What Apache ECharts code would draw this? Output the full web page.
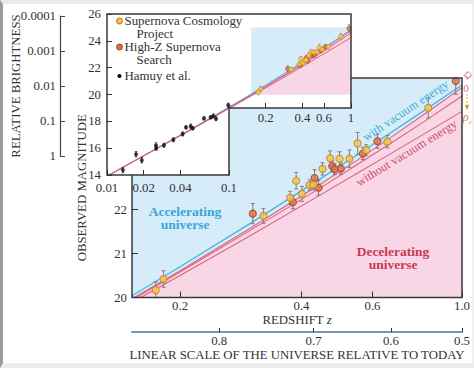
<!DOCTYPE html>
<html><head><meta charset="utf-8">
<script src="https://cdn.jsdelivr.net/npm/echarts@6.0.0/dist/echarts.min.js"></script>
<style>
html,body{margin:0;padding:0;background:#fff;}
#c{width:474px;height:368px;position:absolute;left:0;top:0;}
#fr{position:absolute;left:0;top:0;width:474px;height:368px;box-sizing:border-box;border-top:4px solid #ebebeb;border-left:3px solid #9c9c9c;border-bottom:5px solid #ebebeb;border-right:2px solid #f0f0f0;pointer-events:none;}
</style></head>
<body><div id="c"></div><div id="fr"></div>
<script>
// ---------------- data ----------------
const scpZ   = [0.174, 0.182, 0.322, 0.375, 0.388, 0.401, 0.419, 0.428, 0.451, 0.471, 0.497, 0.526, 0.551, 0.579, 0.653, 0.825];
const scpMag = [20.17, 20.42, 21.86, 22.27, 22.66, 22.36, 22.56, 22.57, 22.93, 23.17, 23.16, 23.16, 23.51, 23.36, 23.55, 24.32];
const scpErr = [0.19, 0.19, 0.17, 0.15, 0.19, 0.17, 0.12, 0.12, 0.14, 0.17, 0.16, 0.20, 0.25, 0.12, 0.14, 0.23];

const hzZ   = [0.303, 0.381, 0.431, 0.441, 0.477, 0.483, 0.501, 0.568, 0.617, 0.965];
const hzMag = [21.91, 22.17, 22.72, 22.50, 22.99, 22.92, 22.94, 23.28, 23.56, 24.93];
const hzErr = [0.23, 0.15, 0.19, 0.17, 0.12, 0.12, 0.13, 0.14, 0.16, 0.30];

const hamuyZ   = [0.0135, 0.0173, 0.0193, 0.0252, 0.0253, 0.0293, 0.0350, 0.0417, 0.0444, 0.0485, 0.0504, 0.0624, 0.0708, 0.0743, 0.0782, 0.0987];
const hamuyMag = [14.37, 15.55, 15.10, 16.20, 16.00, 16.22, 16.62, 17.06, 17.55, 17.64, 17.48, 18.22, 18.30, 18.40, 18.20, 19.20];
const hamuyErr = [0.20, 0.20, 0.20, 0.20, 0.15, 0.15, 0.15, 0.15, 0.12, 0.15, 0.12, 0.12, 0.12, 0.15, 0.15, 0.15];

const curveZ        = [0.01, 0.05, 0.1, 0.152, 0.2, 0.3, 0.45, 0.55, 0.65, 0.8, 1.0];
const withVacuum    = [13.92, 17.48, 19.06, 20.04, 20.70, 21.70, 22.73, 23.25, 23.69, 24.24, 24.84];
const emptyUniverse = [13.91, 17.45, 19.01, 19.97, 20.61, 21.59, 22.61, 23.13, 23.58, 24.15, 24.78];
const openMatter    = [13.91, 17.44, 18.99, 19.94, 20.58, 21.54, 22.52, 23.03, 23.45, 23.99, 24.59];
const withoutVacuum = [13.91, 17.42, 18.95, 19.89, 20.50, 21.42, 22.36, 22.83, 23.22, 23.71, 24.24];

const mainZRange = [0.152, 1.0];
const mainMagRange = [20, 25];
const insetZRange = [0.01, 1];
const insetMagRange = [14, 26];
const insetNotch = [0.1, 19];

const mainZTicks = [0.2, 0.4, 0.6, 1.0];
const mainZLabels = ['0.2', '0.4', '0.6', '1.0'];
const mainMagTicks = [20, 21, 22];
const scaleValues = [0.8, 0.7, 0.6, 0.5];
const scaleLabels = ['0.8', '0.7', '0.6', '0.5'];
const insetLowTicks = [0.01, 0.02, 0.04, 0.1];
const insetLowLabels = ['0.01', '0.02', '0.04', '0.1'];
const insetHighTicks = [0.2, 0.4, 0.6, 1];
const insetHighLabels = ['0.2', '0.4', '0.6', '1'];
const brightTicks = [1, 0.1, 0.01, 0.001, 0.0001];
const brightLabels = ['1', '0.1', '0.01', '0.001', '0.0001'];

// ---------------- styles ----------------
const FONT = '"Liberation Serif", "Times New Roman", serif';
const FS = 12.8;
const TXT = '#333';
const BLUE_BG = '#d6ecf8', PINK_BG = '#f9d6e5';
const CYAN = '#46b4dc', RED = '#d8647d';
const scpStyle = {color: '#f1d048', borderColor: '#d3802c', borderWidth: 1.3};
const hzStyle = {color: '#dc7845', borderColor: '#a5442c', borderWidth: 1.2};

const pairs = (xs, ys) => xs.map((x, i) => [x, ys[i]]);
const triples = (xs, ys, es) => xs.map((x, i) => [x, ys[i], es[i]]);
const scaleTickZ = scaleValues.map(a => 1 / a - 1);
function labelFor(ticks, labels) {
  return v => {
    let bi = 0, bd = Infinity;
    ticks.forEach((t, i) => { const d = Math.abs(Math.log(t) - Math.log(v)); if (d < bd) { bd = d; bi = i; } });
    return labels[bi];
  };
}
function errRender(color, cap, lw) {
  return function (params, api) {
    const z = api.value(0), m = api.value(1), e = api.value(2);
    const a = api.coord([z, m + e]), b = api.coord([z, m - e]);
    const st = () => ({stroke: color, lineWidth: lw});
    return {type: 'group', children: [
      {type: 'line', shape: {x1: a[0], y1: a[1], x2: b[0], y2: b[1]}, style: st()},
      {type: 'line', shape: {x1: a[0] - cap, y1: a[1], x2: a[0] + cap, y2: a[1]}, style: st()},
      {type: 'line', shape: {x1: b[0] - cap, y1: b[1], x2: b[0] + cap, y2: b[1]}, style: st()}
    ]};
  };
}
const insetOutline = () => [
  [insetZRange[0], insetMagRange[0]], [insetNotch[0], insetMagRange[0]], [insetNotch[0], insetNotch[1]],
  [insetZRange[1], insetNotch[1]], [insetZRange[1], insetMagRange[1]], [insetZRange[0], insetMagRange[1]]
];
const curves = [
  {vals: withVacuum, color: CYAN, width: 1.3},
  {vals: emptyUniverse, color: RED, width: 1.1, area: true},
  {vals: openMatter, color: RED, width: 1.1},
  {vals: withoutVacuum, color: RED, width: 1.1}
];
function lineSeries(c, xi, yi, z, area) {
  const s = {type: 'line', xAxisIndex: xi, yAxisIndex: yi, data: pairs(curveZ, c.vals), symbol: 'none',
    silent: true, z: z, clip: true, lineStyle: {color: c.color, width: c.width}};
  if (area) s.areaStyle = {color: PINK_BG, origin: 'start', opacity: 1};
  return s;
}

const axisLbl = (extra) => Object.assign({fontFamily: FONT, fontSize: FS, color: TXT}, extra);

const series = [];
// main plot
curves.forEach(c => { if (c.area) series.push(lineSeries(c, 0, 0, 2, true)); });
curves.forEach(c => { if (!c.area) series.push(lineSeries(c, 0, 0, 3, false)); });
series.push({type: 'custom', xAxisIndex: 0, yAxisIndex: 0, z: 4, clip: true, silent: true, encode: {x: 0, y: 1},
  data: triples(scpZ, scpMag, scpErr), renderItem: errRender('#7c7f9c', 2, 1)});
series.push({type: 'custom', xAxisIndex: 0, yAxisIndex: 0, z: 4, clip: true, silent: true, encode: {x: 0, y: 1},
  data: triples(hzZ, hzMag, hzErr), renderItem: errRender('#8d6f72', 2, 1)});
series.push({type: 'scatter', name: 'High-Z Supernova Search', xAxisIndex: 0, yAxisIndex: 0, z: 5, symbolSize: 7,
  data: pairs(hzZ, hzMag), itemStyle: hzStyle});
series.push({type: 'scatter', name: 'Supernova Cosmology Project', xAxisIndex: 0, yAxisIndex: 0, z: 5, symbolSize: 7,
  data: pairs(scpZ, scpMag), itemStyle: scpStyle});
series.push({type: 'custom', xAxisIndex: 0, yAxisIndex: 0, z: 6, silent: true, encode: {x: 0, y: 1},
  data: [[mainZRange[0], mainMagRange[0]]],
  renderItem: (p, api) => {
    const a = api.coord([mainZRange[0], mainMagRange[1]]), b = api.coord([mainZRange[1], mainMagRange[0]]);
    return {type: 'rect', shape: {x: a[0], y: a[1], width: b[0] - a[0], height: b[1] - a[1]},
      style: {fill: 'none', stroke: '#383838', lineWidth: 1.5}};
  }});
// inset
series.push({type: 'custom', xAxisIndex: 2, yAxisIndex: 1, z: 10, silent: true, encode: {x: 0, y: 1},
  data: [[insetZRange[0], insetMagRange[0]]],
  renderItem: (p, api) => ({type: 'polygon', shape: {points: insetOutline().map(c => api.coord(c))}, style: {fill: '#fff'}})});
series.push({type: 'custom', xAxisIndex: 2, yAxisIndex: 1, z: 11, silent: true, encode: {x: 0, y: 1},
  data: [[mainZRange[0], mainMagRange[0]]],
  renderItem: (p, api) => {
    const a = api.coord([mainZRange[0], mainMagRange[1]]), b = api.coord([mainZRange[1], mainMagRange[0]]);
    const pts = pairs(curveZ, emptyUniverse).filter(q => q[0] >= mainZRange[0])
      .map(q => api.coord([q[0], Math.max(q[1], mainMagRange[0])]));
    pts.push(api.coord([mainZRange[1], mainMagRange[0]]));
    pts.push(api.coord([mainZRange[0], mainMagRange[0]]));
    return {type: 'group', children: [
      {type: 'rect', shape: {x: a[0], y: a[1], width: b[0] - a[0], height: b[1] - a[1]}, style: {fill: BLUE_BG}},
      {type: 'polygon', shape: {points: pts}, style: {fill: PINK_BG}}
    ]};
  }});
curves.forEach(c => series.push(lineSeries(Object.assign({}, c, {width: 1}), 2, 1, 12, false)));
series.push({type: 'custom', xAxisIndex: 2, yAxisIndex: 1, z: 13, silent: true, encode: {x: 0, y: 1},
  data: triples(hamuyZ, hamuyMag, hamuyErr), renderItem: errRender('#222', 1.2, 0.8)});
series.push({type: 'custom', xAxisIndex: 2, yAxisIndex: 1, z: 13, silent: true, encode: {x: 0, y: 1},
  data: triples(scpZ, scpMag, scpErr), renderItem: errRender('#8a8a9a', 1.2, 0.7)});
series.push({type: 'custom', xAxisIndex: 2, yAxisIndex: 1, z: 13, silent: true, encode: {x: 0, y: 1},
  data: triples(hzZ, hzMag, hzErr), renderItem: errRender('#8a7a7a', 1.2, 0.7)});
series.push({type: 'scatter', name: 'Hamuy et al.', xAxisIndex: 2, yAxisIndex: 1, z: 14, symbolSize: 4,
  data: pairs(hamuyZ, hamuyMag), itemStyle: {color: '#111'}});
series.push({type: 'scatter', name: 'High-Z Supernova Search', xAxisIndex: 2, yAxisIndex: 1, z: 14, symbolSize: 4.5,
  data: pairs(hzZ, hzMag), itemStyle: Object.assign({}, hzStyle, {borderWidth: 0.8})});
series.push({type: 'scatter', name: 'Supernova Cosmology Project', xAxisIndex: 2, yAxisIndex: 1, z: 14, symbolSize: 4.5,
  data: pairs(scpZ, scpMag), itemStyle: Object.assign({}, scpStyle, {borderWidth: 0.8})});
series.push({type: 'custom', xAxisIndex: 2, yAxisIndex: 1, z: 16, silent: true, encode: {x: 0, y: 1},
  data: [[insetZRange[0], insetMagRange[0]]],
  renderItem: (p, api) => ({type: 'polygon', shape: {points: insetOutline().map(c => api.coord(c))},
    style: {fill: 'none', stroke: '#383838', lineWidth: 1.5}})});

const legendItems = [
  {style: scpStyle, lines: ['Supernova Cosmology', 'Project'], r: 2.8},
  {style: hzStyle, lines: ['High-Z Supernova', 'Search'], r: 2.8},
  {style: {color: '#111', borderColor: '#111', borderWidth: 0}, lines: ['Hamuy et al.'], r: 2.1}
];
const legendY = [21, 47, 76];
const LFS = 12.9;
const graphics = [];
legendItems.forEach((it, i) => {
  const y = legendY[i];
  graphics.push({type: 'circle', z: 30, shape: {cx: 119.5, cy: y, r: it.r},
    style: {fill: it.style.color, stroke: it.style.borderColor, lineWidth: it.style.borderWidth}});
  graphics.push({type: 'text', z: 30, x: 124.5, y: y, style: {text: it.lines[0], fill: TXT, fontFamily: FONT, fontSize: LFS, lineHeight: 12.4, align: 'left', verticalAlign: 'middle'}});
  if (it.lines[1]) graphics.push({type: 'text', z: 30, x: 136.5, y: y + 13, style: {text: it.lines[1], fill: TXT, fontFamily: FONT, fontSize: LFS, lineHeight: 12.4, align: 'left', verticalAlign: 'middle'}});
});
graphics.push(
  {type: 'text', z: 30, x: 185, y: 218, style: {text: 'Accelerating\nuniverse', fill: '#35a7d8', fontFamily: FONT, fontSize: 13.5, fontWeight: 'bold', align: 'center', verticalAlign: 'middle', lineHeight: 13.5}},
  {type: 'text', z: 30, x: 393, y: 258, style: {text: 'Decelerating\nuniverse', fill: '#c73a52', fontFamily: FONT, fontSize: 13.5, fontWeight: 'bold', align: 'center', verticalAlign: 'middle', lineHeight: 13.5}},
  {type: 'text', z: 30, x: 405.5, y: 110.5, rotation: 33.7 * Math.PI / 180, style: {text: 'with vacuum energy', fill: '#3fb0dc', fontFamily: FONT, fontSize: 12.3, align: 'center', verticalAlign: 'middle'}},
  {type: 'text', z: 30, x: 406.5, y: 153, rotation: 31.5 * Math.PI / 180, style: {text: 'without vacuum energy', fill: '#cc4d6a', fontFamily: FONT, fontSize: 12.3, align: 'center', verticalAlign: 'middle'}},
  {type: 'text', z: 30, x: 466, y: 87.5, style: {text: '0', fill: '#d46f7c', fontFamily: FONT, fontSize: 11, align: 'center', verticalAlign: 'middle'}},
  {type: 'text', z: 30, x: 468, y: 75, rotation: -0.8, style: {text: 'Ω', fill: '#d46f7c', fontFamily: FONT, fontSize: 10, align: 'center', verticalAlign: 'middle'}},
  {type: 'line', z: 30, shape: {x1: 467, y1: 94, x2: 467, y2: 106}, style: {stroke: '#e9c445', lineWidth: 1.6, lineDash: [1.5, 2]}},
  {type: 'polygon', z: 30, shape: {points: [[464.8, 105], [469.2, 105], [467, 110]]}, style: {fill: '#dc8a35'}},
  {type: 'text', z: 30, x: 465.5, y: 117, style: {text: 'ρ', fill: '#c8804a', fontFamily: FONT, fontSize: 12, fontStyle: 'italic', align: 'center', verticalAlign: 'middle'}},
  {type: 'text', z: 30, x: 470.5, y: 121.5, style: {text: 'c', fill: '#c8804a', fontFamily: FONT, fontSize: 7, fontStyle: 'italic', align: 'center', verticalAlign: 'middle'}}
);

const option = {
  animation: false,
  backgroundColor: '#fff',
  textStyle: {fontFamily: FONT, color: TXT},
  grid: [
    {left: 132, right: 12, top: 78, bottom: 70.5, show: true, backgroundColor: BLUE_BG, borderWidth: 0, containLabel: false, outerBoundsMode: 'none'},
    {left: 107, right: 123, top: 14, bottom: 193, containLabel: false, outerBoundsMode: 'none'},
    {left: 107, right: 123, top: 14, bottom: 260, containLabel: false, outerBoundsMode: 'none'},
    {left: 60, width: 10, top: 16, height: 140, containLabel: false, outerBoundsMode: 'none'}
  ],
  xAxis: [
    {gridIndex: 0, type: 'log', logBase: 10, min: mainZRange[0], max: mainZRange[1], position: 'bottom', z: 7,
      axisLine: {show: false}, splitLine: {show: false}, minorTick: {show: false},
      axisTick: {show: true, inside: true, length: 6, customValues: mainZTicks, lineStyle: {color: '#333', width: 1}},
      axisLabel: axisLbl({customValues: mainZTicks, formatter: labelFor(mainZTicks, mainZLabels), margin: 2}),
      name: 'REDSHIFT {i|z}', nameLocation: 'middle', nameGap: 15.5, nameMoveOverlap: false,
      nameTextStyle: {fontFamily: FONT, fontSize: FS, color: TXT, rich: {i: {fontFamily: FONT, fontSize: FS, fontStyle: 'italic', color: TXT}}}},
    {gridIndex: 0, type: 'log', logBase: 10, min: mainZRange[0], max: mainZRange[1], position: 'bottom', offset: 34.5, z: 7,
      axisLine: {show: true, lineStyle: {color: '#4f72a8', width: 1.7}}, splitLine: {show: false},
      axisTick: {show: true, inside: true, length: 4, customValues: scaleTickZ, lineStyle: {color: '#333', width: 1}},
      axisLabel: axisLbl({customValues: scaleTickZ, formatter: labelFor(scaleTickZ, scaleLabels), margin: 2}),
      name: 'LINEAR SCALE OF THE UNIVERSE RELATIVE TO TODAY', nameLocation: 'middle', nameGap: 16.5, nameMoveOverlap: false,
      nameTextStyle: {fontFamily: FONT, fontSize: FS, color: TXT}},
    {gridIndex: 1, type: 'log', logBase: 10, min: insetZRange[0], max: insetZRange[1], position: 'bottom', z: 17,
      axisLine: {show: false}, splitLine: {show: false},
      axisTick: {show: true, inside: true, length: 5, customValues: insetLowTicks, lineStyle: {color: '#333'}},
      axisLabel: axisLbl({customValues: insetLowTicks, formatter: labelFor(insetLowTicks, insetLowLabels), margin: 7, lineHeight: 11})},
    {gridIndex: 2, type: 'log', logBase: 10, min: insetZRange[0], max: insetZRange[1], position: 'bottom', z: 17,
      axisLine: {show: false}, splitLine: {show: false},
      axisTick: {show: true, inside: true, length: 5, customValues: insetHighTicks, lineStyle: {color: '#333'}},
      axisLabel: axisLbl({customValues: insetHighTicks, formatter: labelFor(insetHighTicks, insetHighLabels), margin: 3})},
    {gridIndex: 3, type: 'value', show: false, min: 0, max: 1}
  ],
  yAxis: [
    {gridIndex: 0, type: 'value', min: mainMagRange[0], max: mainMagRange[1], interval: 1, z: 7,
      axisLine: {show: false}, splitLine: {show: false},
      axisTick: {show: true, inside: true, length: 6, customValues: mainMagTicks, lineStyle: {color: '#333'}},
      axisLabel: axisLbl({customValues: mainMagTicks, margin: 5}),
      name: 'OBSERVED MAGNITUDE', nameLocation: 'middle', nameGap: 44, nameMoveOverlap: false,
      nameTextStyle: {fontFamily: FONT, fontSize: FS, color: TXT}},
    {gridIndex: 1, type: 'value', min: insetMagRange[0], max: insetMagRange[1], interval: 2, z: 17,
      axisLine: {show: false}, splitLine: {show: false},
      axisTick: {show: true, inside: true, length: 5, lineStyle: {color: '#333'}},
      axisLabel: axisLbl({margin: 6, lineHeight: 10})},
    {gridIndex: 2, type: 'value', min: insetNotch[1], max: insetMagRange[1], show: false},
    {gridIndex: 3, type: 'log', logBase: 10, min: 0.0001, max: 1, inverse: true, position: 'left', z: 7,
      axisLine: {show: true, lineStyle: {color: '#444', width: 1.2}}, splitLine: {show: false},
      axisTick: {show: true, inside: true, length: 5, lineStyle: {color: '#444'}},
      axisLabel: axisLbl({formatter: labelFor(brightTicks, brightLabels), margin: 4}),
      name: 'RELATIVE BRIGHTNESS', nameLocation: 'middle', nameGap: 38, nameMoveOverlap: false,
      nameTextStyle: {fontFamily: FONT, fontSize: FS, color: TXT}}
  ],
  series: series,
  graphic: graphics
};
const chart = echarts.init(document.getElementById('c'), null, {renderer: 'svg'});
chart.setOption(option);
</script>
</body></html>
